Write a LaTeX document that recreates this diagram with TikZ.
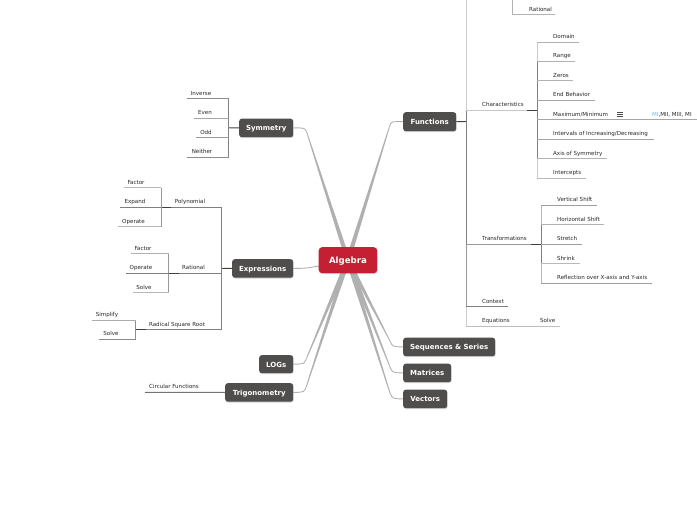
\documentclass[tikz,border=0pt]{standalone}
\usepackage{fontspec}
\setmainfont{DejaVu Sans}
\usetikzlibrary{calc,shadows,backgrounds}
\definecolor{topicfill}{HTML}{4F4E4D}
\definecolor{rootfill}{HTML}{C41F33}
\definecolor{linkc}{HTML}{B0B0B0}
\definecolor{iconblue}{HTML}{4FC3F7}
\tikzset{
  topic/.style={draw=none,fill=topicfill,rounded corners=2.6pt,text=white,font=\fontsize{7}{8}\selectfont\bfseries,
    inner sep=0pt,anchor=north west,align=center,text height=6pt,text depth=0pt,drop shadow={shadow xshift=0.4pt,shadow yshift=-0.8pt,opacity=.18,fill=black}},
  rootnode/.style={topic,fill=rootfill,rounded corners=3.4pt,font=\fontsize{8.6}{9}\selectfont\bfseries,text height=7.4pt},
  leaf/.style={font=\fontsize{5.55}{6}\selectfont,text=black!85,inner sep=0pt},
  tline/.style={line width=1pt,draw=#1},
  tline/.default={black!45},
  stub/.style={line width=.95pt,draw=black!75},
  link/.style={line width=.9pt,draw=linkc},
  taper/.style={fill=linkc,draw=none},
}
\newcommand{\topicbox}[7][topic]{%
  \node[#1,minimum width={(#5-#4)*1pt},minimum height={(#7-#6)*1pt}] (#2) at (#4,#6) {#3};}
% branch from the root: id, target anchor, bend x, bend y, control x, control y
\newcommand{\branch}[6]{%
  \coordinate (#1bend) at (#3,#4);
  \coordinate (#1ctrl) at (#5,#6);
  \fill[taper] ($(rbox.center)+(-2.4,0)$) -- ($(#1bend)+(-.45,0)$) -- ($(#1bend)+(.45,0)$) -- ($(rbox.center)+(2.4,0)$) -- cycle;
  \draw[link] (#1bend) .. controls (#1ctrl) .. (#2);}
\newcommand{\rleaf}[7]{%
  \node[leaf,anchor=base west] (#1) at (#3,#4-3.5) {#2};
  \coordinate (#1a) at (#5,#4); \coordinate (#1b) at (#6,#4);
  \draw[tline=#7] (#1a) -- (#1b);}
\newcommand{\lleaf}[7]{%
  \node[leaf,anchor=base] (#1) at (#3,#4-3.5) {#2};
  \coordinate (#1a) at (#5,#4); \coordinate (#1b) at (#6,#4);
  \draw[tline=#7] (#1a) -- (#1b);}
\begin{document}
\begin{tikzpicture}[x=1pt,y=-1pt]
\useasboundingbox (0,0) rectangle (697,520);
\clip (0,0) rectangle (697,520);

% Topic boxes
\topicbox{fbox}{Functions}{403}{456}{112}{131}
\topicbox{sbox}{Symmetry}{239}{293}{118.5}{137}
\topicbox{ebox}{Expressions}{232}{293}{259}{277.5}
\topicbox{lbox}{LOGs}{259}{293}{355}{373}
\topicbox{tbox}{Trigonometry}{225}{293}{383}{401.5}
\topicbox{qbox}{Sequences \& Series}{403}{495}{337.5}{356}
\topicbox{mbox}{Matrices}{403}{451}{363.5}{382}
\topicbox{vbox}{Vectors}{403}{447}{389.5}{408}
\topicbox[rootnode]{rbox}{Algebra}{318.5}{377}{247}{273}

\begin{pgfonlayer}{background}
\branch{fun}{fbox.west}{389.5}{126.5}{391}{121.5}
\branch{sym}{sbox.east}{307}{133}{305}{127.8}
\branch{log}{lbox.east}{306}{359.5}{304}{364}
\branch{tri}{tbox.east}{306}{387.5}{304}{392.2}
\branch{seq}{qbox.west}{390}{341}{392.5}{346.7}
\branch{mat}{mbox.west}{390}{367}{392.5}{372.7}
\branch{vec}{vbox.west}{390}{393}{392.5}{398.7}
\coordinate (expbend) at (318,266);
\coordinate (expctrl) at (306,268.3);
\fill[taper] ($(rbox.center)+(0,-2)$) -- (expbend) -- (318,267) -- ($(rbox.center)+(0,2)$) -- cycle;
\draw[link] (expbend) .. controls (expctrl) .. (ebox.east);
\end{pgfonlayer}

% Functions tree
\coordinate (ftop) at (466,0);
\coordinate (fc) at (466,110);
\coordinate (fm) at (466,121.5);
\coordinate (ft) at (466,244);
\coordinate (fx) at (466,306.5);
\coordinate (fe) at (466,326);
\draw[tline=black!20] (ftop) -- (fc);
\draw[tline=black!50] (fc) -- (fm);
\draw[tline=black!50] (fm) -- (ft);
\draw[tline=black!40] (ft) -- (fx);
\draw[tline=black!20] (fx) -- (fe);
\draw[stub] (fbox.east) -- (fm);

% Rational (top fragment)
\node[leaf,anchor=base west] (ratf) at (529,11) {Rational};
\draw[tline=black!30] (512,0) |- (555,14.5);

% Characteristics
\rleaf{char}{Characteristics}{482}{110}{466}{527}{black!22}
\draw[stub] (527,110) -- (537,110);
\draw[tline=black!20] (537,42) -- (537,61);
\draw[tline=black!50] (537,61) -- (537,158.5);
\draw[tline=black!20] (537,158.5) -- (537,178);
\rleaf{dom}{Domain}{553}{42}{537}{579}{black!30}
\rleaf{ran}{Range}{553}{61}{537}{575}{black!30}
\rleaf{zer}{Zeros}{553}{80.5}{537}{573}{black!30}
\rleaf{endb}{End Behavior}{553}{100}{537}{594.5}{black!35}
\rleaf{maxm}{Maximum/Minimum}{553}{119.5}{537}{697}{black!35}
\rleaf{inte}{Intervals of Increasing/Decreasing}{553}{139}{537}{653.5}{black!35}
\rleaf{axi}{Axis of Symmetry}{553}{158.5}{537}{607}{black!30}
\rleaf{icp}{Intercepts}{553}{178}{537}{586}{black!28}
\foreach \yy in {112,114.2,116.4} \draw[line width=.5pt,black!70] (616.5,\yy) -- (623,\yy);
\node[leaf,anchor=base west] (mis) at (652,116) {\textcolor{iconblue}{MI},MII, MIII, MI};

% Transformations
\rleaf{tra}{Transformations}{482}{244}{466}{531}{black!40}
\draw[stub] (531,244) -- (541,244);
\draw[tline=black!28] (541,205) -- (541,224.5);
\draw[tline=black!50] (541,224.5) -- (541,263.5);
\draw[tline=black!28] (541,263.5) -- (541,283);
\rleaf{vsh}{Vertical Shift}{557}{205}{541}{597}{black!38}
\rleaf{hsh}{Horizontal Shift}{557}{224.5}{541}{604}{black!30}
\rleaf{str}{Stretch}{557}{244}{541}{582}{black!38}
\rleaf{shr}{Shrink}{557}{263.5}{541}{580}{black!28}
\rleaf{ref}{Reflection over X-axis and Y-axis}{557}{283}{541}{652}{black!38}

\rleaf{con}{Context}{482}{306.5}{466}{508}{black!50}
\rleaf{equ}{Equations}{482}{326}{466}{560}{black!25}
\node[leaf,anchor=base west] (sol) at (540,322.5) {Solve};

% Symmetry tree
\draw[stub] (sbox.west) -- (228.5,127.75);
\draw[tline=black!50] (228.5,98.5) -- (228.5,157);
\lleaf{inv}{Inverse}{201}{98.5}{187}{228.5}{black!45}
\lleaf{eve}{Even}{205}{118}{194}{228.5}{black!35}
\lleaf{odd}{Odd}{206}{137.5}{196}{228.5}{black!40}
\lleaf{nei}{Neither}{202}{157}{187}{228.5}{black!45}

% Expressions tree
\draw[stub] (ebox.west) -- (221.5,268.25);
\draw[tline=black!50] (221.5,207) -- (221.5,329.5);
\lleaf{pol}{Polynomial}{190}{207}{161}{221.5}{black!50}
\draw[stub] (161,207) -- (171,207);
\draw[tline=black!40] (161,187.5) -- (161,226.5);
\lleaf{fa1}{Factor}{136}{187.5}{123.5}{161}{black!28}
\lleaf{exa}{Expand}{135}{207}{120}{161}{black!50}
\lleaf{op1}{Operate}{133.5}{226.5}{118}{161}{black!28}
\lleaf{rat}{Rational}{193.5}{273}{168.5}{221.5}{black!50}
\draw[stub] (168.5,273) -- (179,273);
\draw[tline=black!40] (168.5,253.5) -- (168.5,292.5);
\lleaf{fa2}{Factor}{143}{253.5}{131}{168.5}{black!30}
\lleaf{op2}{Operate}{141}{273}{126}{168.5}{black!50}
\lleaf{so2}{Solve}{144}{292.5}{133}{168.5}{black!28}
\lleaf{rad}{Radical Square Root}{177}{329.5}{135.5}{221.5}{black!50}
\draw[stub] (135.5,329.5) -- (146,329.5);
\draw[tline=black!45] (135.5,320) -- (135.5,339);
\lleaf{sim}{Simplify}{107}{320}{92}{135.5}{black!32}
\lleaf{so3}{Solve}{111}{339}{99}{135.5}{black!45}

% Trigonometry tree
\node[leaf,anchor=base] (cir) at (174,388.7) {Circular Functions};
\coordinate (cirb) at (145,392.25);
\draw[tline=black!55] (tbox.west) -- (cirb);
\end{tikzpicture}
\end{document}
